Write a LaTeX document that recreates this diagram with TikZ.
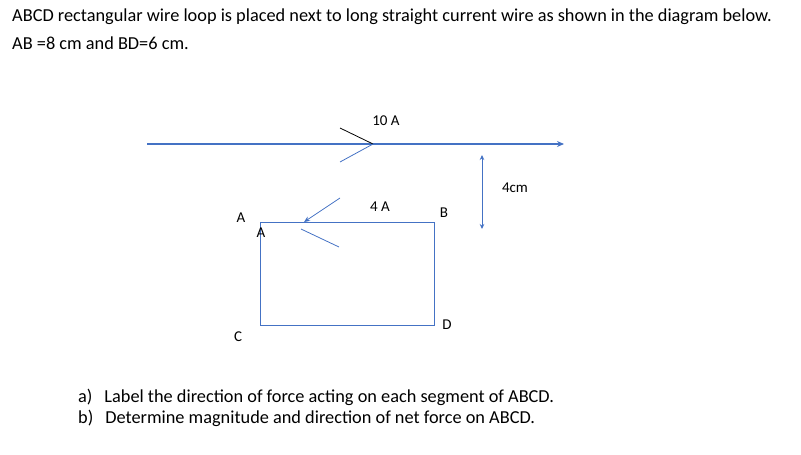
\documentclass[tikz,border=0pt]{standalone}
\usepackage{fontspec}
\setmainfont{Carlito}
\usetikzlibrary{arrows.meta}
\begin{document}
\begin{tikzpicture}[x=1pt,y=-1pt,
  wire/.style={draw={rgb,255:red,68;green,114;blue,196},line width=1.6pt},
  thin/.style={draw={rgb,255:red,68;green,114;blue,196},line width=0.8pt},
  lbl/.style={inner sep=0pt,font=\fontsize{15}{18}\selectfont},
  txt/.style={inner sep=0pt,anchor=west,font=\fontsize{18.3}{22}\selectfont}]
\useasboundingbox (0,0) rectangle (801,455);
\node[txt] (t1) at (12,17) {ABCD rectangular wire loop is placed next to long straight current wire as shown in the diagram below.};
\node[txt] (t2) at (12,43) {AB =8 cm and BD=6 cm.};
\coordinate (w1) at (147,144);
\coordinate (w2) at (564,144);
\draw[wire,-{Stealth[length=7pt,width=6pt]}] (w1) -- (w2);
\coordinate (c1) at (373,144);
\coordinate (c1a) at (340,128);
\coordinate (c1b) at (340,162);
\draw[line width=0.8pt] (c1a) -- (c1);
\draw[thin] (c1) -- (c1b);
\node[lbl] (i10) at (386,121) {10 A};
\coordinate (d1) at (482,155);
\coordinate (d2) at (482,229);
\draw[thin,{Stealth[length=5pt,width=4.5pt]}-{Stealth[length=5pt,width=4.5pt]}] (d1) -- (d2);
\node[lbl] (l4) at (515,188) {4cm};
\coordinate (A) at (260,222);
\coordinate (B) at (434,222);
\coordinate (D) at (434,325);
\coordinate (C) at (260,325);
\draw[thin] (A) -- (B) -- (D) -- (C) -- cycle;
\coordinate (c2a) at (340,198);
\coordinate (c2) at (304,222);
\coordinate (c2b) at (301,229);
\coordinate (c2c) at (339,247);
\draw[thin,-{Stealth[length=6pt,width=5pt]}] (c2a) -- (c2);
\draw[thin] (c2b) -- (c2c);
\node[lbl] (i4) at (380,207) {4 A};
\node[lbl] (lA) at (241,218) {A};
\node[lbl] (lA2) at (261,233) {A};
\node[lbl] (lB) at (444,213) {B};
\node[lbl] (lC) at (238,337) {C};
\node[lbl] (lD) at (447,325) {D};
\node[txt] (q1) at (78,397) {a)\hspace{12pt}Label the direction of force acting on each segment of ABCD.};
\node[txt] (q2) at (78,418) {b)\hspace{12pt}Determine magnitude and direction of net force on ABCD.};
\end{tikzpicture}
\end{document}
